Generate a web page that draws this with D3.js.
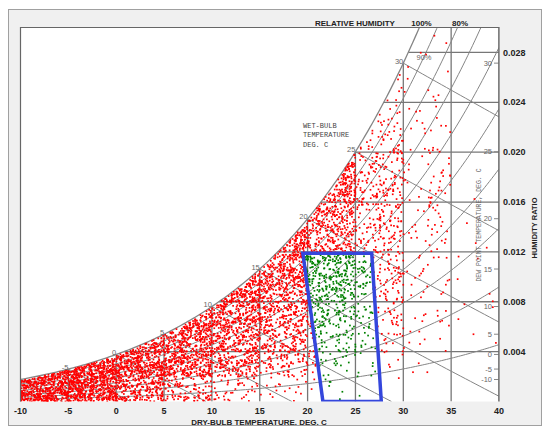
<!doctype html>
<html lang="en">
<head>
  <script src="https://cdnjs.cloudflare.com/ajax/libs/d3/7.8.5/d3.min.js"></script>
  <style type="text/css">
    body {
      padding: 0;
      margin: 0;
      background: #fff;
    }
    #canvas {
      display: block;
    }
  </style>
</head>
<body>
  <svg id="canvas" width="550" height="435"></svg>
<script>

// axis ticks
var dryBulbTicks = [-10, -5, 0, 5, 10, 15, 20, 25, 30, 35, 40];
var humidityTicks = [0.004, 0.008, 0.012, 0.016, 0.020, 0.024, 0.028];
var humidityLabels = ['0.004', '0.008', '0.012', '0.016', '0.020', '0.024', '0.028'];

// psychrometric lines
var rhLevels = [1.0, 0.9, 0.8, 0.7, 0.6, 0.5, 0.4, 0.3, 0.2, 0.1];
var wetBulbTemps = [-10, -5, 0, 5, 10, 15, 20, 25, 30];
var dewPointTicks = [-10, -5, 0, 5, 10, 15, 20, 25, 30];

// comfort zone corners [dry-bulb C, humidity ratio]
var comfortZone = [[19.5, 0.0119], [26.7, 0.0119], [27.7, 0], [21.6, 0]];

// hourly readings counted per cell: rows = dry-bulb bins (5 C wide),
// columns = humidity ratio bins (2 g/kg wide, from 0 to 30 g/kg)
var binTemps = [-10, -5, 0, 5, 10, 15, 20, 25, 30, 35];
var binHumidity = [0, 2, 4, 6, 8, 10, 12, 14, 16, 18, 20, 22, 24, 26, 28];
var hourCounts = [
  [460, 40, 0, 0, 0, 0, 0, 0, 0, 0, 0, 0, 0, 0, 0],
  [440, 230, 0, 0, 0, 0, 0, 0, 0, 0, 0, 0, 0, 0, 0],
  [220, 340, 70, 0, 0, 0, 0, 0, 0, 0, 0, 0, 0, 0, 0],
  [100, 270, 240, 70, 0, 0, 0, 0, 0, 0, 0, 0, 0, 0, 0],
  [40, 150, 200, 220, 150, 8, 0, 0, 0, 0, 0, 0, 0, 0, 0],
  [18, 80, 130, 170, 200, 190, 100, 4, 0, 0, 0, 0, 0, 0, 0],
  [8, 30, 55, 90, 120, 150, 150, 150, 110, 40, 0, 0, 0, 0, 0],
  [2, 12, 28, 45, 55, 60, 60, 65, 70, 55, 32, 14, 5, 2, 0],
  [0, 3, 8, 10, 11, 12, 16, 18, 18, 16, 12, 9, 6, 4, 2],
  [0, 0, 2, 3, 3, 2, 2, 1, 1, 0, 0, 0, 0, 0, 0]
];

var pressure = 101.325;

function satPressure(t) {
  return 0.61094 * Math.exp(17.625 * t / (t + 243.04));
}
function ratioFromVapour(pv) {
  return 0.622 * pv / (pressure - pv);
}
function satRatio(t) {
  return ratioFromVapour(satPressure(t));
}
function dewPoint(w) {
  var pv = w * pressure / (0.622 + w);
  var a = Math.log(pv / 0.61094);
  return 243.04 * a / (17.625 - a);
}
function wetBulbRatio(twb, t) {
  var ws = satRatio(twb);
  return ((2501 - 2.326 * twb) * ws - 1.006 * (t - twb)) / (2501 + 1.86 * t - 4.186 * twb);
}
// fixed integer hash, used to spread the dots of one cell over the cell
function spread(n) {
  n = Math.imul(n ^ (n >>> 16), 0x7feb352d);
  n = Math.imul(n ^ (n >>> 15), 0x846ca68b);
  n = n ^ (n >>> 16);
  return (n >>> 0) / 4294967296;
}

var plotLeft = 20.5, plotRight = 499, plotTop = 27.5, plotBottom = 401.5;

var x = d3.scaleLinear().domain([-10, 40]).range([plotLeft, plotRight]);
var y = d3.scaleLinear().domain([0, 0.030]).range([plotBottom, plotTop]);

var svg = d3.select('#canvas');

// window panel
svg.append('rect')
  .attr('x', 8.5).attr('y', 9.5)
  .attr('width', 533).attr('height', 416)
  .attr('fill', '#f0f0f0')
  .attr('stroke', '#a0a0a0');

svg.append('rect')
  .attr('x', plotLeft).attr('y', plotTop)
  .attr('width', plotRight - plotLeft).attr('height', plotBottom - plotTop)
  .attr('fill', '#fff');

svg.append('clipPath').attr('id', 'plot-clip')
  .append('rect')
  .attr('x', plotLeft).attr('y', plotTop)
  .attr('width', plotRight - plotLeft).attr('height', plotBottom - plotTop);

var plot = svg.append('g').attr('clip-path', 'url(#plot-clip)');

var line = d3.line()
  .x(function(d) { return x(d[0]); })
  .y(function(d) { return y(d[1]); });

// dry-bulb grid, up to the saturation curve
plot.selectAll('.vgrid').data(dryBulbTicks).enter().append('line')
  .attr('class', 'vgrid')
  .attr('x1', function(d) { return x(d); })
  .attr('x2', function(d) { return x(d); })
  .attr('y1', y(0))
  .attr('y2', function(d) { return y(Math.min(satRatio(d), 0.03)); })
  .attr('stroke', '#777')
  .attr('stroke-width', 1.3);

// humidity ratio grid, from the saturation curve
plot.selectAll('.hgrid').data(humidityTicks).enter().append('line')
  .attr('class', 'hgrid')
  .attr('x1', function(d) { return x(dewPoint(d)); })
  .attr('x2', x(40))
  .attr('y1', function(d) { return y(d); })
  .attr('y2', function(d) { return y(d); })
  .attr('stroke', '#777')
  .attr('stroke-width', 1.3);

// relative humidity curves
var temps = d3.range(-10, 40.01, 0.25);
plot.selectAll('.rh').data(rhLevels).enter().append('path')
  .attr('class', 'rh')
  .attr('d', function(rh) {
    return line(temps.map(function(t) {
      return [t, ratioFromVapour(rh * satPressure(t))];
    }));
  })
  .attr('fill', 'none')
  .attr('stroke', '#858585')
  .attr('stroke-width', function(rh) { return rh === 1 ? 1.3 : 1; });

// wet-bulb lines
plot.selectAll('.wb').data(wetBulbTemps).enter().append('path')
  .attr('class', 'wb')
  .attr('d', function(twb) {
    var pts = [];
    for (var t = twb; t <= 40.001; t += 0.5) {
      var w = wetBulbRatio(twb, t);
      if (w < 0) {
        var tPrev = t - 0.5, wPrev = wetBulbRatio(twb, tPrev);
        pts.push([tPrev + 0.5 * wPrev / (wPrev - w), 0]);
        break;
      }
      pts.push([t, w]);
    }
    return line(pts);
  })
  .attr('fill', 'none')
  .attr('stroke', '#858585')
  .attr('stroke-width', 1);

// hourly readings
var zonePx = comfortZone.map(function(c) { return [x(c[0]), y(c[1])]; });
var points = [];
var seq = 1;
for (var i = 0; i < binTemps.length; i++) {
  for (var j = 0; j < binHumidity.length; j++) {
    var count = hourCounts[i][j];
    var n = 0, tries = 0;
    while (n < count && tries < count * 40) {
      tries++;
      var t = binTemps[i] + 5 * spread(2 * seq);
      var w = (binHumidity[j] + 2 * spread(2 * seq + 1)) / 1000;
      seq++;
      if (w < satRatio(t) - 0.00008 && w <= 0.0299) {
        var px = x(t), py = y(w);
        points.push({x: px, y: py, inZone: d3.polygonContains(zonePx, [px, py])});
        n++;
      }
    }
  }
}

plot.selectAll('.pt').data(points).enter().append('rect')
  .attr('class', 'pt')
  .attr('x', function(d) { return d.x - 0.85; })
  .attr('y', function(d) { return d.y - 0.85; })
  .attr('width', 1.7)
  .attr('height', 1.7)
  .attr('fill', function(d) { return d.inZone ? '#008000' : '#ff0000'; });

// comfort zone outline
plot.append('path')
  .attr('d', line(comfortZone) + 'Z')
  .attr('fill', 'none')
  .attr('stroke', '#3446dc')
  .attr('stroke-width', 3.5);

function makeLabel(parent, text, size, color, family, weight) {
  return parent.append('text')
    .text(text)
    .style('font-family', family || 'Liberation Sans, Arial, sans-serif')
    .style('font-size', size + 'px')
    .style('font-weight', weight || 'normal')
    .style('fill', color);
}

// wet-bulb labels on the saturation curve
wetBulbTemps.forEach(function(twb) {
  makeLabel(plot, String(twb), 7.5, '#666')
    .attr('x', x(twb))
    .attr('y', y(satRatio(twb)) + 0.5)
    .attr('text-anchor', 'end');
});

// dew point scale on the right edge
dewPointTicks.forEach(function(td) {
  var yy = y(satRatio(td));
  plot.append('line')
    .attr('x1', plotRight - 5).attr('x2', plotRight)
    .attr('y1', yy).attr('y2', yy)
    .attr('stroke', '#888');
  makeLabel(plot, String(td), 7.5, '#666')
    .attr('x', plotRight - 7)
    .attr('y', yy)
    .attr('dy', '0.35em')
    .attr('text-anchor', 'end');
});

makeLabel(plot, '90%', 7.5, '#666')
  .attr('x', 424).attr('y', 59.5)
  .attr('text-anchor', 'middle');

var mono = 'Liberation Mono, DejaVu Sans Mono, monospace';
['WET-BULB', 'TEMPERATURE', 'DEG. C'].forEach(function(s, k) {
  makeLabel(svg, s, 7, '#444', mono)
    .attr('x', 303)
    .attr('y', 127.5 + k * 9.6)
    .attr('xml:space', 'preserve');
});

makeLabel(svg, 'DEW POINT TEMPERATURE, DEG. C', 6.5, '#666', mono)
  .attr('transform', 'translate(481,225) rotate(-90)')
  .attr('text-anchor', 'middle');

// plot frame
svg.append('path')
  .attr('d', 'M' + plotLeft + ',' + plotBottom + 'V' + plotTop + 'H' + plotRight + 'V' + plotBottom)
  .attr('fill', 'none')
  .attr('stroke', '#666')
  .attr('stroke-width', 1.2);

// axis labels
dryBulbTicks.forEach(function(t) {
  makeLabel(svg, String(t), 9, '#222', null, 'bold')
    .attr('x', x(t))
    .attr('y', 413.5)
    .attr('text-anchor', 'middle');
});

humidityTicks.forEach(function(w, k) {
  makeLabel(svg, humidityLabels[k], 9, '#222', null, 'bold')
    .attr('x', 503)
    .attr('y', y(w))
    .attr('dy', '0.35em');
});

makeLabel(svg, 'DRY-BULB TEMPERATURE. DEG. C', 8, '#222', null, 'bold')
  .attr('x', 259).attr('y', 424.5)
  .attr('text-anchor', 'middle');

makeLabel(svg, 'HUMIDITY RATIO', 7.5, '#222', null, 'bold')
  .attr('transform', 'translate(537,228) rotate(-90)')
  .attr('text-anchor', 'middle');

makeLabel(svg, 'RELATIVE HUMIDITY', 8, '#222', null, 'bold')
  .attr('x', 315).attr('y', 25.5);
makeLabel(svg, '100%', 8, '#222', null, 'bold')
  .attr('x', 421.5).attr('y', 25.5)
  .attr('text-anchor', 'middle');
makeLabel(svg, '80%', 8, '#222', null, 'bold')
  .attr('x', 460).attr('y', 25.5)
  .attr('text-anchor', 'middle');

</script>
</body>
</html>
